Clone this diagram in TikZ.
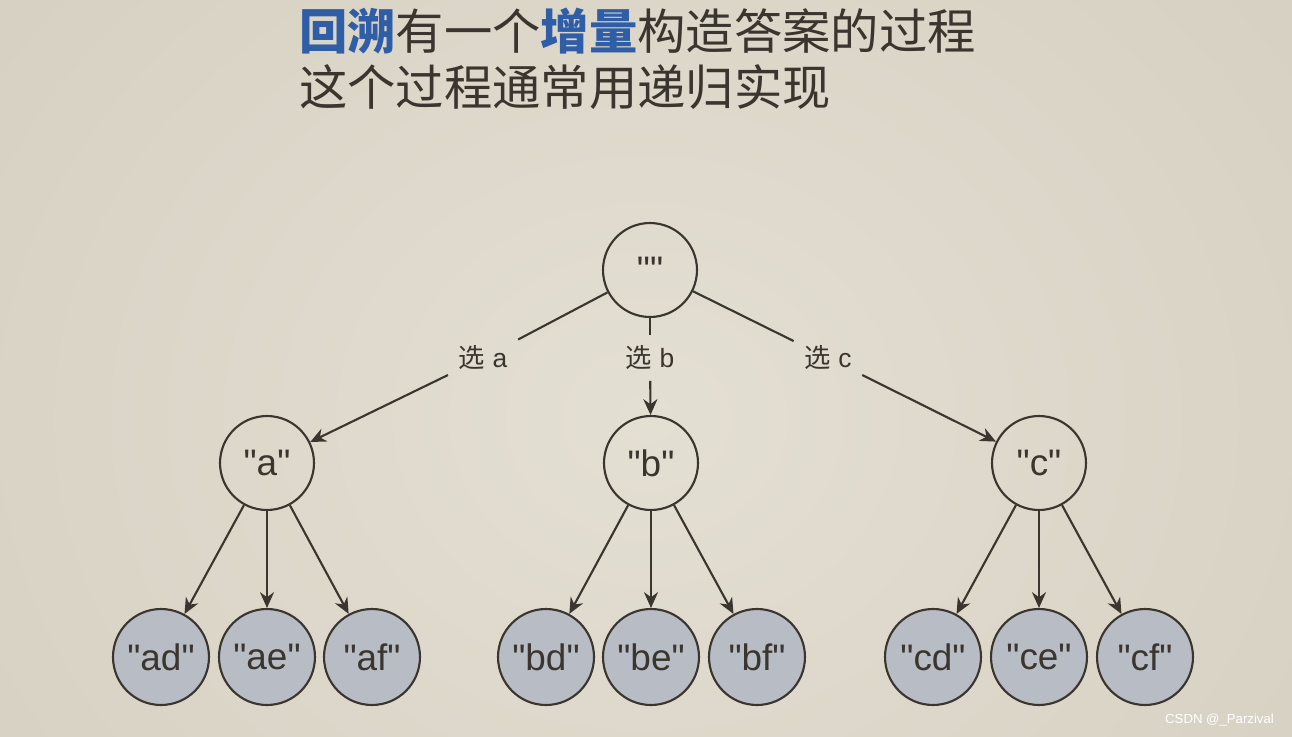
\documentclass[tikz,border=0pt]{standalone}
\usepackage{fontspec}
\setmainfont{Liberation Sans}
\newfontfamily\cjk{Noto Sans CJK SC}
\usetikzlibrary{arrows.meta}
\definecolor{bg}{HTML}{D6D0C2}
\definecolor{bgc}{HTML}{E4DFD3}
\definecolor{ln}{HTML}{3A352E}
\definecolor{leaf}{HTML}{B8BCC4}
\definecolor{ttl}{HTML}{2F5DA6}
\newcommand{\qq}{\textquotedbl}
\tikzset{
  inner/.style={circle,draw=ln,line width=1.2pt,minimum size=1.88cm,inner sep=0pt,font=\fontsize{21}{24}\selectfont,text=ln},
  leafn/.style={inner,fill=leaf,minimum size=1.92cm},
  edge/.style={draw=ln,line width=1.2pt,-{Stealth[length=9pt,width=8pt]}},
  seg/.style={draw=ln,line width=1.2pt},
  lab/.style={font=\fontsize{15}{18}\selectfont,text=ln,inner sep=6pt}
}
\begin{document}
\begin{tikzpicture}[x=0.02cm,y=-0.02cm]
\useasboundingbox (0,0) rectangle (1292,737);
\shade[inner color=bgc,outer color=bg] (-200,-300) rectangle (1492,1137);
\node[anchor=west,font=\cjk\fontsize{27.5}{32}\selectfont,text=ln] (t1) at (293,31) {\textcolor{ttl}{\textbf{回溯}}有一个\textcolor{ttl}{\textbf{增量}}构造答案的过程};
\node[anchor=west,font=\cjk\fontsize{27.5}{32}\selectfont,text=ln] (t2) at (293,87) {这个过程通常用递归实现};
\node[inner] (r) at (650,270) {\qq\qq};
\node[inner] (a) at (267,463) {\qq a\qq};
\node[inner] (b) at (651,463) {\qq b\qq};
\node[inner] (c) at (1039,463) {\qq c\qq};
\node[lab] (la) at (483,358) {{\cjk 选} a};
\node[lab] (lb) at (650,358) {{\cjk 选} b};
\node[lab] (lc) at (828,358) {{\cjk 选} c};
\draw[seg] (r) -- (la); \draw[edge] (la) -- (a);
\draw[seg] (r) -- (lb); \draw[edge] (lb) -- (b);
\draw[seg] (r) -- (lc); \draw[edge] (lc) -- (c);
\foreach \p/\x/\n in {a/161/ad,a/267/ae,a/372/af,b/546/bd,b/651/be,b/757/bf,c/933/cd,c/1039/ce,c/1145/cf}{
  \node[leafn] (\n) at (\x,657) {\qq\n\qq};
  \draw[edge] (\p) -- (\n);
}
\node[anchor=east,font=\fontsize{7.5}{9}\selectfont,text=white] (wm) at (1280,720) {CSDN @\_Parzival};
\end{tikzpicture}
\end{document}
